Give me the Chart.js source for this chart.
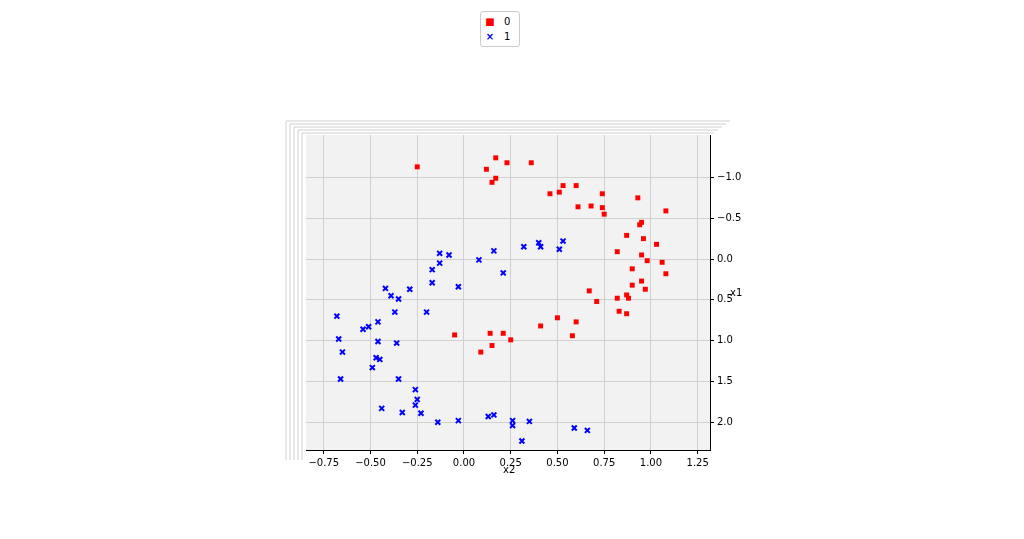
<!DOCTYPE html>
<html>
<head>
<meta charset="utf-8">
<script src="https://cdn.jsdelivr.net/npm/chart.js@4/dist/chart.umd.min.js"></script>
<style>
  body { margin: 0; background: #fff; font-family: "DejaVu Sans", sans-serif; }
  #wrap { position: relative; width: 1024px; height: 539px; }
  #legend { position: absolute; left: 480px; top: 11px; width: 36px; padding: 2px 0 2px 2px;
            border: 1px solid #ccc; border-radius: 3px; font-size: 10px; background: #fff; }
  #legend div { height: 15px; line-height: 15px; }
  #legend span { display: inline-block; width: 14px; text-align: center; margin-right: 7px; }
</style>
</head>
<body>
<div id="wrap">
  <canvas id="c" width="1024" height="539"></canvas>
  <div id="legend">
    <div><span style="color:red">&#9632;</span>0</div>
    <div><span style="color:blue;font-weight:bold">&#215;</span>1</div>
  </div>
</div>
<script>
// class 0 (red squares): x2, x1
const redX2 = [-0.25,0.12,0.17,0.23,0.36,0.17,0.15,0.46,0.51,0.53,0.60,0.74,0.93,0.61,0.68,0.74,0.75,1.08,0.95,0.94,0.87,0.96,1.03,0.82,0.95,0.98,1.06,1.08,0.90,0.95,0.90,0.97,0.67,0.87,0.82,0.88,0.71,0.83,0.87,0.50,0.60,0.41,0.58,-0.05,0.14,0.21,0.25,0.15,0.09];
const redX1 = [-1.13,-1.10,-1.24,-1.18,-1.18,-0.99,-0.94,-0.80,-0.82,-0.90,-0.90,-0.80,-0.75,-0.64,-0.65,-0.63,-0.55,-0.59,-0.45,-0.42,-0.29,-0.25,-0.18,-0.09,-0.05,0.02,0.04,0.18,0.12,0.27,0.32,0.37,0.39,0.44,0.48,0.48,0.52,0.64,0.67,0.72,0.77,0.82,0.94,0.93,0.91,0.91,0.99,1.06,1.14];
// class 1 (blue crosses)
const blueX2 = [-0.42,-0.39,-0.35,-0.29,-0.17,-0.17,-0.13,-0.13,-0.08,-0.03,0.08,0.16,0.21,0.32,0.40,0.41,0.51,0.53,-0.68,-0.37,-0.20,-0.46,-0.54,-0.51,-0.67,-0.46,-0.36,-0.65,-0.47,-0.45,-0.49,-0.66,-0.35,-0.26,-0.25,-0.26,-0.44,-0.33,-0.23,-0.14,-0.03,0.13,0.16,0.26,0.26,0.35,0.31,0.59,0.66];
const blueX1 = [0.36,0.45,0.49,0.37,0.29,0.13,0.05,-0.07,-0.05,0.34,0.01,-0.10,0.17,-0.15,-0.20,-0.15,-0.12,-0.22,0.70,0.65,0.65,0.77,0.86,0.83,0.98,1.01,1.03,1.14,1.21,1.23,1.33,1.47,1.47,1.60,1.72,1.79,1.83,1.88,1.89,2.00,1.98,1.93,1.91,1.98,2.04,1.99,2.23,2.07,2.10];

const toPts = (xs, ys) => xs.map((x, i) => ({ x, y: ys[i] }));

const panel = {
  id: 'panel',
  beforeDraw(chart) {
    const { ctx, chartArea: a } = chart;
    ctx.save();
    ctx.fillStyle = '#f2f2f2';
    ctx.fillRect(a.left, a.top, a.right - a.left, a.bottom - a.top);
    // back pane edges for the 3d look
    ctx.strokeStyle = '#cfcfcf';
    ctx.lineWidth = 1;
    for (let i = 0; i < 5; i++) {
      ctx.beginPath();
      ctx.moveTo(a.left - 20 + i * 4, a.top - 14 + i * 3);
      ctx.lineTo(a.right + 20 - i * 4, a.top - 14 + i * 3);
      ctx.moveTo(a.left - 20 + i * 4, a.top - 14 + i * 3);
      ctx.lineTo(a.left - 20 + i * 4, a.bottom + 10);
      ctx.stroke();
    }
    ctx.restore();
  },
  afterDraw(chart) {
    const { ctx } = chart;
    ctx.save();
    ctx.fillStyle = '#000';
    ctx.font = '10px "DejaVu Sans"';
    ctx.fillText('x2', 503, 473);
    ctx.fillText('x1', 730, 296);
    ctx.restore();
  }
};

new Chart(document.getElementById('c'), {
  type: 'scatter',
  data: {
    datasets: [
      { label: '0', data: toPts(redX2, redX1), pointStyle: 'rect', radius: 3.5,
        backgroundColor: 'red', borderColor: 'red', borderWidth: 0 },
      { label: '1', data: toPts(blueX2, blueX1), pointStyle: 'crossRot', radius: 3.5,
        borderColor: 'blue', borderWidth: 2 }
    ]
  },
  options: {
    responsive: false,
    animation: false,
    layout: { padding: { left: 306, top: 135, right: 0, bottom: 0 } },
    plugins: { legend: { display: false }, tooltip: { enabled: false } },
    scales: {
      x: {
        min: -0.845, max: 1.316,
        afterFit: s => { s.height = 89; },
        afterBuildTicks: s => { s.ticks = [-0.75,-0.5,-0.25,0,0.25,0.5,0.75,1,1.25].map(v => ({ value: v })); },
        ticks: { color: '#000', font: { size: 10, family: 'DejaVu Sans' }, maxRotation: 0,
                 callback: v => v.toFixed(2).replace('-', '\u2212') },
        grid: { color: '#d0d0d0', tickColor: '#000', tickLength: 4 },
        border: { color: '#000' }
      },
      y: {
        position: 'right', reverse: true,
        min: -1.52, max: 2.34,
        afterFit: s => { s.width = 314; },
        afterBuildTicks: s => { s.ticks = [-1,-0.5,0,0.5,1,1.5,2].map(v => ({ value: v })); },
        ticks: { color: '#000', font: { size: 10, family: 'DejaVu Sans' },
                 callback: v => v.toFixed(1).replace('-', '\u2212') },
        grid: { color: '#d0d0d0', tickColor: '#000', tickLength: 4 },
        border: { color: '#000' }
      }
    }
  },
  plugins: [panel]
});
</script>
</body>
</html>
